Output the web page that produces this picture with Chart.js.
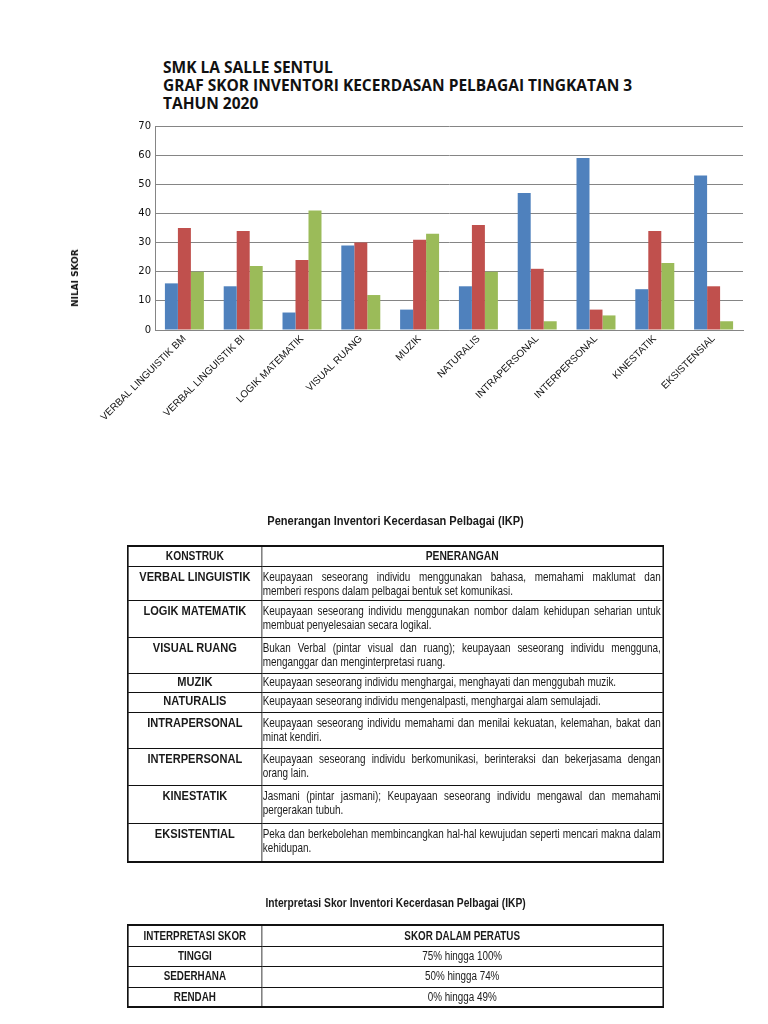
<!DOCTYPE html>
<html>
<head>
<meta charset="utf-8">
<script src="https://cdn.jsdelivr.net/npm/chart.js@4.4.1/dist/chart.umd.min.js"></script>
<style>
  html, body { margin: 0; padding: 0; background: #fff; }
  body { width: 768px; height: 1024px; position: relative; overflow: hidden; }
  #title { position: absolute; left: 163px; top: 58px; font: bold 15.5px "Open Sans", sans-serif; line-height: 18px; color: #111; white-space: nowrap; }
  #ytitle { position: absolute; left: 75px; top: 278px; transform: translate(-50%, -50%) rotate(-90deg); font: bold 9px "DejaVu Sans", sans-serif; color: #111; white-space: nowrap; }
  #chartbox { position: absolute; left: 0; top: 0; width: 768px; height: 440px; }
  .blk { position: absolute; left: 127px; width: 655px; transform: scaleX(0.82); transform-origin: 0 0;
         font-family: "Liberation Sans", Arial, sans-serif; color: #1a1a1a; }
  .ttl { position: absolute; left: 0; width: 655px; text-align: center; font-weight: bold; line-height: 16px; }
  table { position: absolute; left: 0; width: 655px; border-collapse: collapse; border: 2px solid #111; table-layout: fixed; }
  td, th { border: 1px solid #111; padding: 0 2px; line-height: 14.5px; }
  th { font-weight: bold; font-size: 12.5px; text-align: center; vertical-align: middle; }
  td.k { font-weight: bold; font-size: 13.5px; text-align: center; vertical-align: top; padding-top: 3px; }
  td.d { font-size: 12.1px; vertical-align: top; padding-top: 3px; padding-left: 1px; padding-right: 2px; }
  td.d .j { text-align: justify; text-align-last: justify; white-space: nowrap; }
  #t2 td { text-align: center; vertical-align: middle; padding: 0; font-size: 12px; }
  #t2 td.k { font-weight: bold; font-size: 12px; }
</style>
</head>
<body>
<div id="title">SMK LA SALLE SENTUL<br>GRAF SKOR INVENTORI KECERDASAN PELBAGAI TINGKATAN 3<br>TAHUN 2020</div>
<div id="chartbox"><canvas id="c"></canvas></div>
<div id="ytitle">NILAI SKOR</div>

<div class="blk" style="top:0;">
<div class="ttl" style="top:513px; font-size:13.5px;">Penerangan Inventori Kecerdasan Pelbagai (IKP)</div>
<table id="t1" style="top:545px;">
  <colgroup><col style="width:163px"><col></colgroup>
  <tr style="height:20px"><th>KONSTRUK</th><th>PENERANGAN</th></tr>
  <tr style="height:34px"><td class="k">VERBAL LINGUISTIK</td><td class="d"><div class="j">Keupayaan seseorang individu menggunakan bahasa, memahami maklumat dan</div><div>memberi respons dalam pelbagai bentuk set komunikasi.</div></td></tr>
  <tr style="height:37px"><td class="k">LOGIK MATEMATIK</td><td class="d"><div class="j">Keupayaan seseorang individu menggunakan nombor dalam kehidupan seharian untuk</div><div>membuat penyelesaian secara logikal.</div></td></tr>
  <tr style="height:36px"><td class="k">VISUAL RUANG</td><td class="d"><div class="j">Bukan Verbal (pintar visual dan ruang); keupayaan seseorang individu mengguna,</div><div>menganggar dan menginterpretasi ruang.</div></td></tr>
  <tr style="height:19px"><td class="k" style="padding-top:1px">MUZIK</td><td class="d" style="padding-top:1px"><div>Keupayaan seseorang individu menghargai, menghayati dan menggubah muzik.</div></td></tr>
  <tr style="height:20px"><td class="k" style="padding-top:1px">NATURALIS</td><td class="d" style="padding-top:1px"><div>Keupayaan seseorang individu mengenalpasti, menghargai alam semulajadi.</div></td></tr>
  <tr style="height:36px"><td class="k">INTRAPERSONAL</td><td class="d"><div class="j">Keupayaan seseorang individu memahami dan menilai kekuatan, kelemahan, bakat dan</div><div>minat kendiri.</div></td></tr>
  <tr style="height:37px"><td class="k">INTERPERSONAL</td><td class="d"><div class="j">Keupayaan seseorang individu berkomunikasi, berinteraksi dan bekerjasama dengan</div><div>orang lain.</div></td></tr>
  <tr style="height:38px"><td class="k">KINESTATIK</td><td class="d"><div class="j">Jasmani (pintar jasmani); Keupayaan seseorang individu mengawal dan memahami</div><div>pergerakan tubuh.</div></td></tr>
  <tr style="height:39px"><td class="k">EKSISTENTIAL</td><td class="d"><div class="j">Peka dan berkebolehan membincangkan hal-hal kewujudan seperti mencari makna dalam</div><div>kehidupan.</div></td></tr>
</table>

<div class="ttl" style="top:895px; font-size:12.5px;">Interpretasi Skor Inventori Kecerdasan Pelbagai (IKP)</div>
<table id="t2" style="top:924px;">
  <colgroup><col style="width:163px"><col></colgroup>
  <tr style="height:21px"><td class="k">INTERPRETASI SKOR</td><td class="k">SKOR DALAM PERATUS</td></tr>
  <tr style="height:20px"><td class="k">TINGGI</td><td>75% hingga 100%</td></tr>
  <tr style="height:21px"><td class="k">SEDERHANA</td><td>50% hingga 74%</td></tr>
  <tr style="height:20px"><td class="k">RENDAH</td><td>0% hingga 49%</td></tr>
</table>
</div>

<script>
const categories = ['VERBAL LINGUISTIK BM', 'VERBAL LINGUISTIK BI', 'LOGIK MATEMATIK', 'VISUAL RUANG', 'MUZIK', 'NATURALIS', 'INTRAPERSONAL', 'INTERPERSONAL', 'KINESTATIK', 'EKSISTENSIAL'];
const seriesNames = ['TINGGI', 'SEDERHANA', 'RENDAH'];
const tinggi    = [16, 15, 6, 29, 7, 15, 47, 59, 14, 53];
const sederhana = [35, 34, 24, 30, 31, 36, 21, 7, 34, 15];
const rendah    = [20, 22, 41, 12, 33, 20, 3, 5, 23, 3];
const yTicks = [0, 10, 20, 30, 40, 50, 60, 70];

const gridColor = '#858585';
new Chart(document.getElementById('c'), {
  type: 'bar',
  data: {
    labels: categories,
    datasets: [
      { label: seriesNames[0], data: tinggi, backgroundColor: '#4F81BD' },
      { label: seriesNames[1], data: sederhana, backgroundColor: '#C0504D' },
      { label: seriesNames[2], data: rendah, backgroundColor: '#9BBB59' }
    ]
  },
  options: {
    responsive: true,
    maintainAspectRatio: false,
    animation: false,
    layout: { padding: { top: 126, left: 78, right: 25, bottom: 0 } },
    plugins: { legend: { display: false }, tooltip: { enabled: false } },
    datasets: { bar: { categoryPercentage: 0.663, barPercentage: 1.0 } },
    scales: {
      x: {
        grid: { display: false, drawTicks: false },
        border: { display: true, color: gridColor, width: 1 },
        ticks: { autoSkip: false, minRotation: 45, maxRotation: 45, padding: 3, color: '#111', font: { family: 'Liberation Sans', size: 10 } },
        afterFit: (s) => { s.height = 110; }
      },
      y: {
        min: 0, max: 70,
        grid: { color: gridColor, lineWidth: 1, drawTicks: false },
        border: { display: true, color: gridColor, width: 1 },
        afterBuildTicks: (s) => { s.ticks = yTicks.map(v => ({ value: v })); },
        ticks: { padding: 4, color: '#111', font: { family: 'DejaVu Sans', size: 10 } },
        afterFit: (s) => { s.width = 77; }
      }
    }
  }
});
</script>
</body>
</html>
